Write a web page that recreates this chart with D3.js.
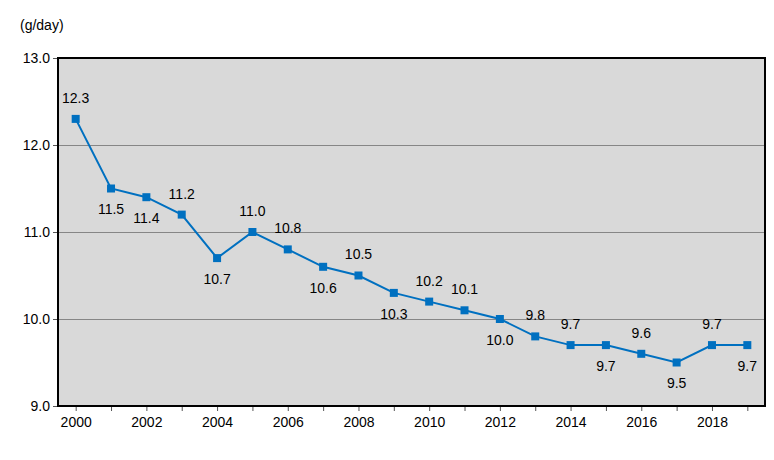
<!DOCTYPE html>
<html>
<head>
<meta charset="utf-8">
<style>
  body { margin: 0; background: #fff; }
  text { font-family: "Liberation Sans", Arial, sans-serif; font-size: 14px; fill: #000; }
</style>
</head>
<body>
<div id="chart"></div>
<script src="https://d3js.org/d3.v7.min.js"></script>
<script>
// data
var years = d3.range(2000, 2020);
var values = [12.3, 11.5, 11.4, 11.2, 10.7, 11.0, 10.8, 10.6, 10.5, 10.3,
              10.2, 10.1, 10.0, 9.8, 9.7, 9.7, 9.6, 9.5, 9.7, 9.7];
var yTicks = [9, 10, 11, 12, 13];
var unitLabel = "(g/day)";
// which side of the point each value label sits on
var labelSide = ["up", "down", "down", "up", "down", "up", "up", "down", "up", "down",
                 "up", "up", "down", "up", "up", "down", "up", "down", "up", "down"];

var width = 774, height = 460;
var margin = {top: 58, right: 9, bottom: 54, left: 58};

var svg = d3.select("#chart")
    .append("svg")
    .attr("width", width)
    .attr("height", height);

var x = d3.scalePoint()
    .domain(years)
    .range([margin.left, width - margin.right])
    .padding(0.5);

var y = d3.scaleLinear()
    .domain([9, 13])
    .range([height - margin.bottom, margin.top]);

// plot background
svg.append("rect")
    .attr("x", margin.left)
    .attr("y", margin.top)
    .attr("width", width - margin.left - margin.right)
    .attr("height", height - margin.top - margin.bottom)
    .attr("fill", "#d9d9d9");

// gridlines
svg.append("g")
    .selectAll("line")
    .data(yTicks.slice(1, -1))
    .enter()
    .append("line")
    .attr("x1", margin.left)
    .attr("x2", width - margin.right)
    .attr("y1", function(d) { return y(d) + 0.5; })
    .attr("y2", function(d) { return y(d) + 0.5; })
    .attr("stroke", "#868686")
    .attr("stroke-width", 1);

// y axis
var yAxis = svg.append("g")
    .attr("transform", "translate(" + margin.left + ",0)")
    .call(d3.axisLeft(y).tickValues(yTicks).tickSize(5).tickPadding(3)
        .tickFormat(d3.format(".1f")));
yAxis.select(".domain").remove();
yAxis.selectAll(".tick line").attr("stroke", "#555");
yAxis.selectAll("text").style("font-size", "14px").style("font-family", "Liberation Sans, Arial, sans-serif");

// x axis
var xAxis = svg.append("g")
    .attr("transform", "translate(0," + (height - margin.bottom) + ")")
    .call(d3.axisBottom(x).tickSize(5).tickPadding(6)
        .tickFormat(function(d) { return d % 2 === 0 ? d : ""; }));
xAxis.select(".domain").remove();
xAxis.selectAll(".tick line").attr("stroke", "#555");
xAxis.selectAll("text").style("font-size", "14px").style("font-family", "Liberation Sans, Arial, sans-serif");

// plot border
svg.append("rect")
    .attr("x", margin.left)
    .attr("y", margin.top)
    .attr("width", width - margin.left - margin.right)
    .attr("height", height - margin.top - margin.bottom)
    .attr("fill", "none")
    .attr("stroke", "#000")
    .attr("stroke-width", 2);

// unit label
svg.append("text")
    .attr("x", 20)
    .attr("y", 30)
    .text(unitLabel);

// line
var line = d3.line()
    .x(function(d, i) { return x(years[i]); })
    .y(function(d) { return y(d); });

svg.append("path")
    .datum(values)
    .attr("d", line)
    .attr("fill", "none")
    .attr("stroke", "#0070c0")
    .attr("stroke-width", 2);

// markers
svg.append("g")
    .selectAll("rect")
    .data(values)
    .enter()
    .append("rect")
    .attr("x", function(d, i) { return x(years[i]) - 4; })
    .attr("y", function(d) { return y(d) - 4; })
    .attr("width", 8)
    .attr("height", 8)
    .attr("fill", "#0070c0");

// value labels
svg.append("g")
    .selectAll("text")
    .data(values)
    .enter()
    .append("text")
    .attr("x", function(d, i) { return x(years[i]); })
    .attr("y", function(d, i) { return y(d) + (labelSide[i] === "up" ? -21 : 21); })
    .attr("dy", "0.35em")
    .attr("text-anchor", "middle")
    .text(function(d) { return d3.format(".1f")(d); });
</script>
</body>
</html>
